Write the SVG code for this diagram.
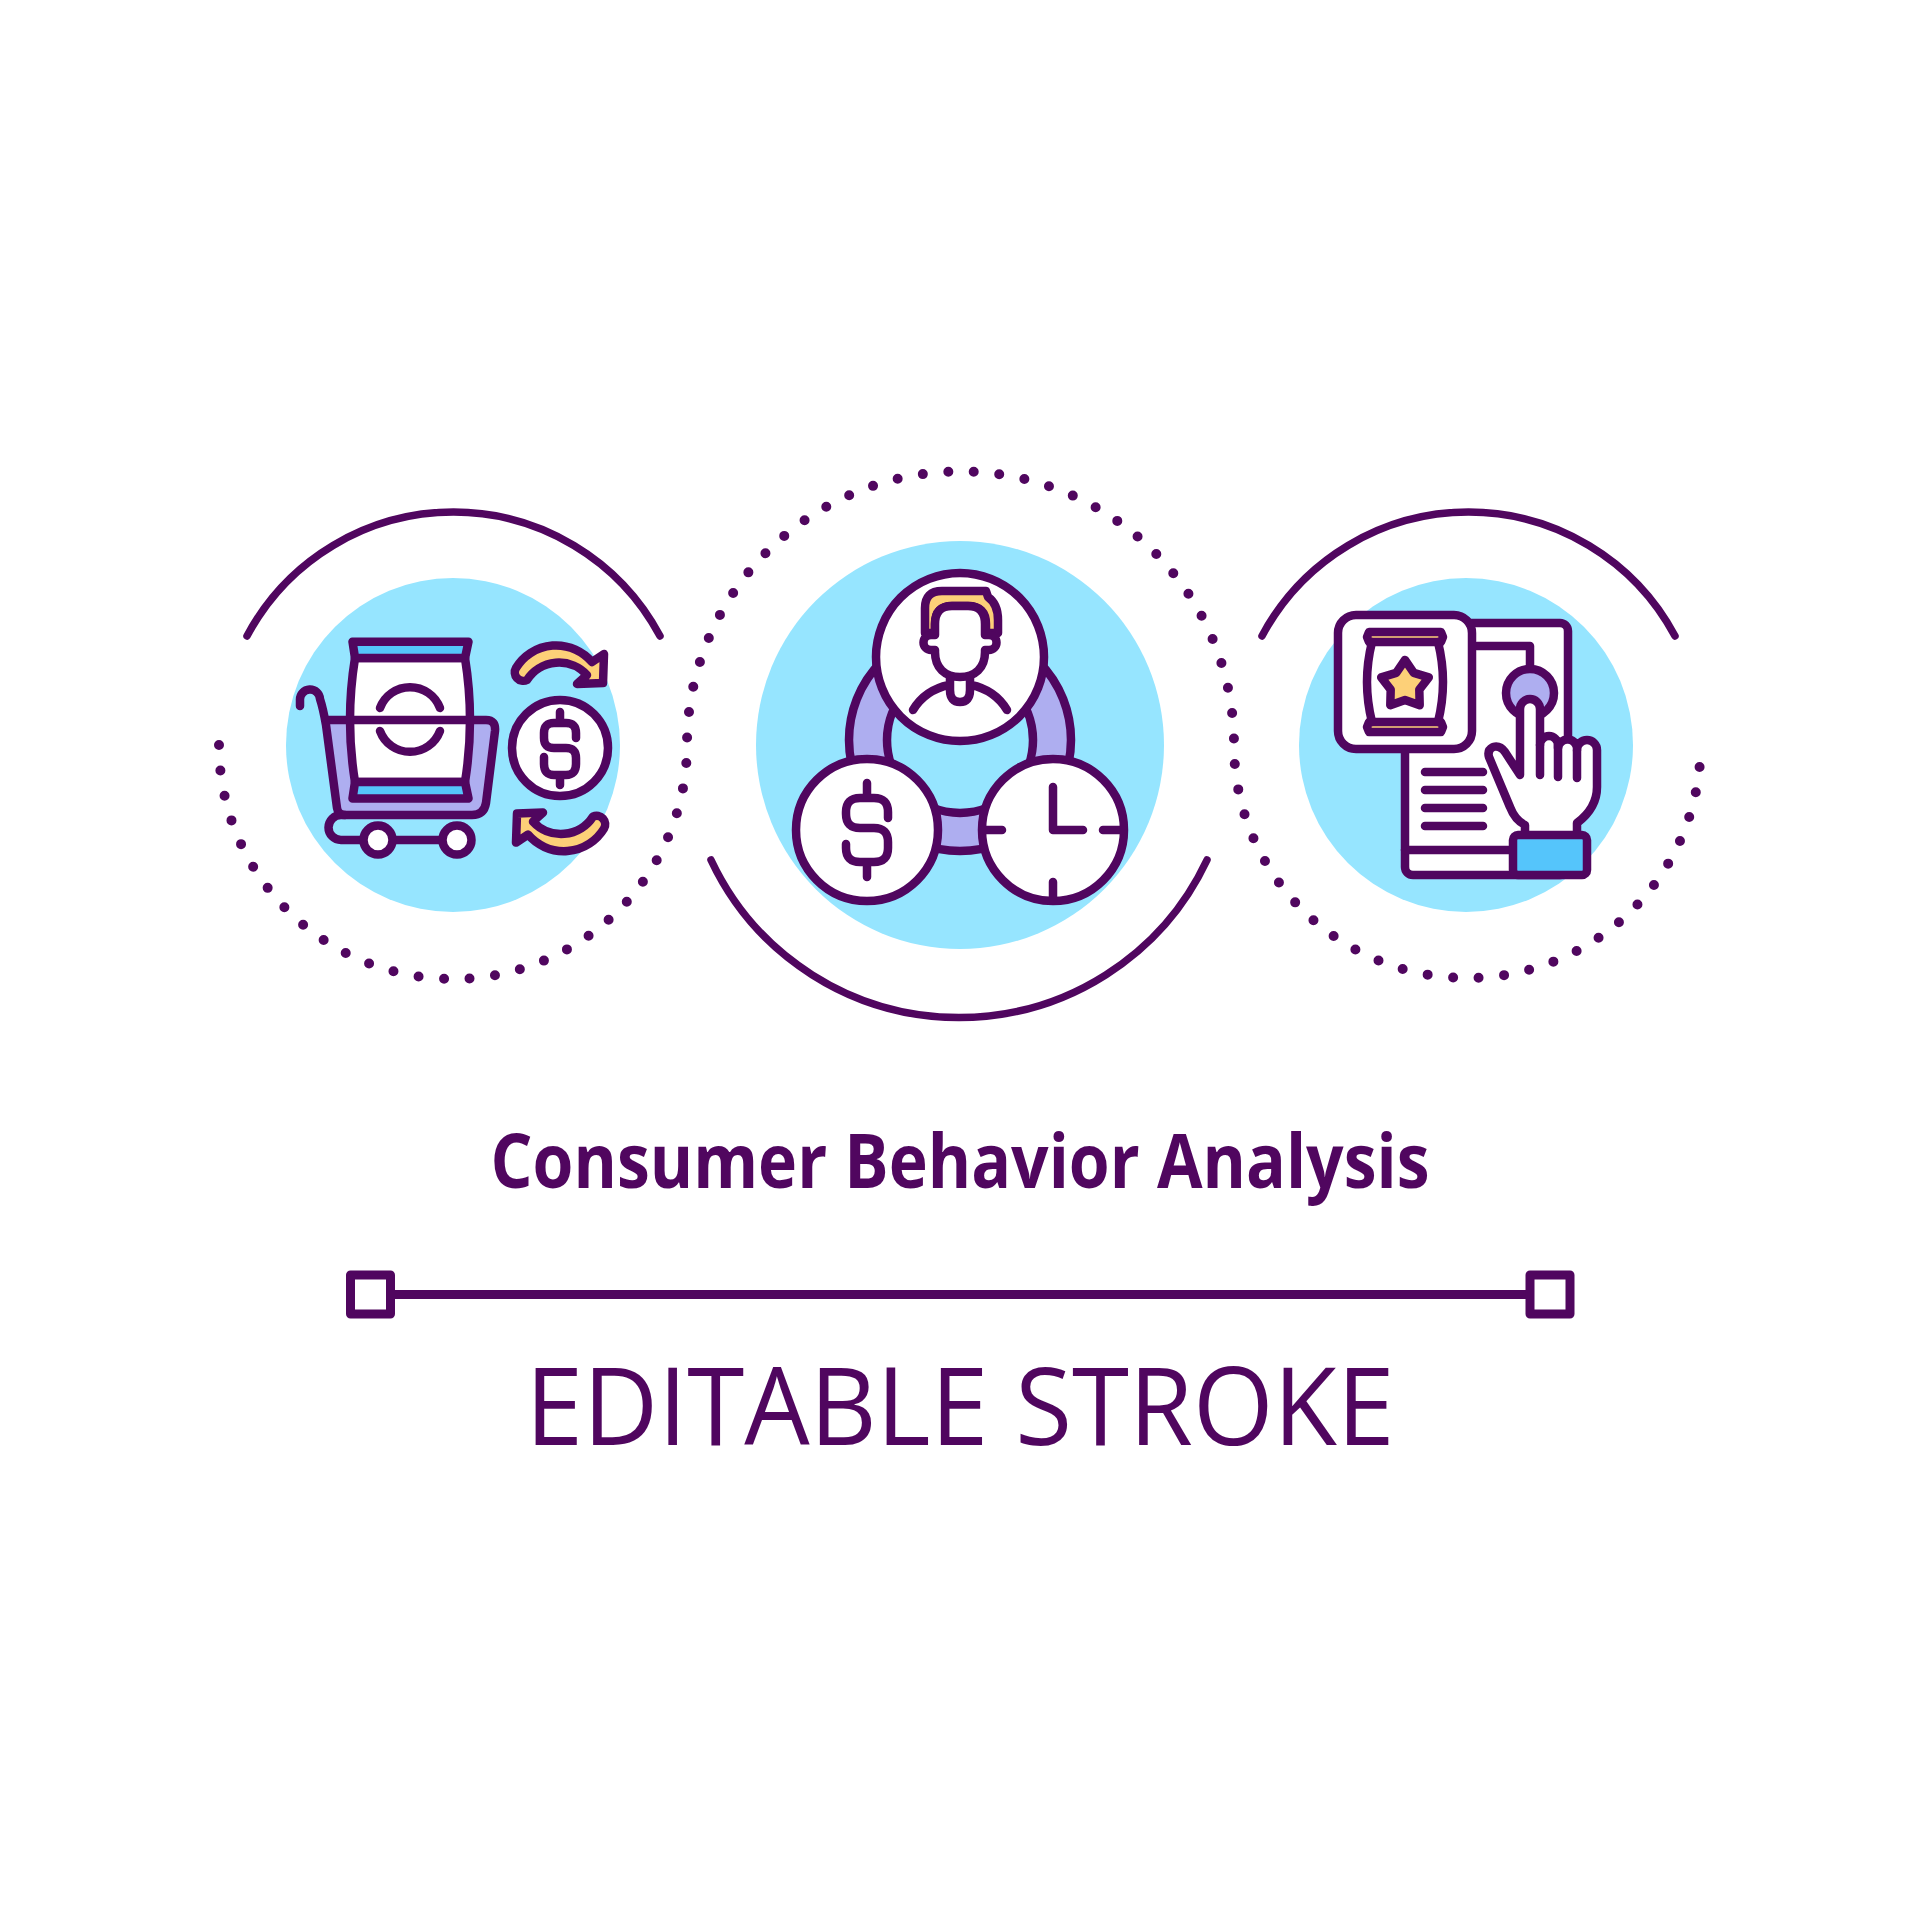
<svg xmlns="http://www.w3.org/2000/svg" width="1920" height="1920" viewBox="0 0 1920 1920">
<style>
.s{fill:none;stroke:#50065f;stroke-width:8.500;stroke-linecap:round;stroke-linejoin:round}
.a{fill:none;stroke:#50065f;stroke-width:7.500;stroke-linecap:round}
.d{fill:none;stroke:#50065f;stroke-width:10;stroke-linecap:round;stroke-dasharray:0 25.6}
.w{fill:#fff}.y{fill:#fdd078}.p{fill:#aeaef0}.b{fill:#55c5fb}.l{fill:#96e5ff}
.s.w{fill:#fff}.s.y{fill:#fdd078}.s.p{fill:#aeaef0}.s.b{fill:#55c5fb}.s.l{fill:#96e5ff}
.t{fill:#50065f;font-family:"Open Sans","Liberation Sans",sans-serif}
</style>
<rect width="1920" height="1920" fill="#fff"/>
<g id="frames">
<circle class="l" cx="453" cy="745" r="167"/>
<circle class="l" cx="960" cy="745" r="204"/>
<circle class="l" cx="1466" cy="745" r="167"/>
<path class="a" d="M247 636A234 234 0 0 1 660 636"/>
<path class="a" d="M1262 636A234 234 0 0 1 1675 636"/>
<path class="a" d="M711 860A274 274 0 0 0 1207 860"/>
<path class="d" d="M219 745A234 234 0 0 0 687 745A273.500 273.500 0 0 1 1234 745A233 233 0 0 0 1467 978A233 233 0 0 0 1700 762"/>
</g>
<g id="cart">
<path class="p" d="M327 720H493L482 815H338Z"/>
<path class="s w" d="M355 658Q345 720 355 782H465Q475 720 465 658Z"/>
<path class="s b" d="M352.500 641.700H468.500L465 658H355ZM355 782H465L468.500 798.500H352.500Z"/>
<path class="s" d="M300 706V700A10 10 0 0 1 320 699Q323 708 326 725L337 808Q338 815 345 815H472Q484 815 486 803L495 731Q496 720 486 720H326"/>
<path class="s" d="M378 840H341A12.500 12.500 0 0 1 341 815H345M378 840H457"/>
<circle class="s w" cx="378" cy="840" r="14.500"/>
<circle class="s w" cx="457" cy="840" r="14.500"/>
<path class="s" d="M380 708A32 32 0 0 1 440 708M380 731A32 32 0 0 0 440 731"/>
<circle class="s w" cx="560" cy="748" r="48"/>
<path class="s" d="M560 712V722M560 775V785M576 738V733Q576 723 566 723H554Q544 723 544 733V738Q544 748 554 748H566Q576 748 576 758V764Q576 775 566 775H554Q544 775 544 764V757"/>
<g id="swap">
<path class="s y" d="M516 668A47 47 0 0 1 592 662L604 654L603 683L577 684L587 675A38 38 0 0 0 527 680A8.500 8.500 0 0 1 516 668Z"/>
<path class="s y" transform="rotate(180 560 748.300)" d="M516 668A47 47 0 0 1 592 662L604 654L603 683L577 684L587 675A38 38 0 0 0 527 680A8.500 8.500 0 0 1 516 668Z"/>
</g>
</g>
<g id="person-hub">
<circle class="s p" cx="960" cy="740" r="111"/>
<circle class="s l" cx="960" cy="740" r="73"/>
<circle class="s w" cx="960" cy="657" r="84"/>
<circle class="s w" cx="867" cy="830" r="71"/>
<circle class="s w" cx="1053" cy="830" r="71"/>
<path class="s y" d="M925 633V608Q925 591 942 591H986L988 597Q998 604 998 620V633H986V624Q986 606 968 606H952Q935 606 935 624V633Z"/>
<path class="s w" d="M935 635H931A7.500 7.500 0 0 0 931 650H935V652C935 668 945 677 960 677C975 677 985 668 985 652V650H989A7.500 7.500 0 0 0 989 635H985V624Q985 606 968 606H952Q935 606 935 624Z"/>
<path class="s" d="M950 677V690Q950 702 960 702Q970 702 970 690V677M913 710Q925 690 949 685M1007 710Q995 690 971 685"/>
<path class="s" d="M867 783V797M867 862V877M888 818V812Q888 798 874 798H860Q846 798 846 812V814Q846 828 860 828H874Q888 828 888 842V848Q888 862 874 862H860Q846 862 846 848V844"/>
<path class="s" d="M1053 787V830H1083M983 830H1002M1103 830H1123M1053 882V900"/>
</g>
<g id="product-touch">
<rect class="s w" x="1405" y="623" width="163" height="252" rx="8"/>
<path class="s" d="M1477 646H1530V670M1405 850H1515"/>
<circle class="s p" cx="1530" cy="693" r="24"/>
<rect class="s w" x="1338" y="615" width="134" height="134" rx="18"/>
<path class="s y" d="M1369 632H1441L1443 637L1441 642H1369L1367 637ZM1369 722H1441L1443 727L1441 732H1369L1367 727Z"/>
<path class="s" d="M1372 642Q1362 682 1372 722M1438 642Q1448 682 1438 722"/>
<path class="s y" d="M1405 660L1413.800 672.900L1428.800 677.300L1419.300 689.600L1419.700 705.200L1405 700L1390.300 705.200L1390.700 689.600L1381.200 677.300L1396.200 672.900Z"/>
<path class="s" d="M1425 772H1483M1425 790H1483M1425 808H1483M1425 826H1483"/>
<path class="s w" d="M1520 775V709A10 10 0 0 1 1540 709V745A9 9 0 0 1 1558 745V748A9.500 9.500 0 0 1 1577 750A9.500 9.500 0 0 1 1597 750V787Q1597 808 1577 823V836H1525V825Q1515 820 1510 807L1489 757Q1487 750 1493 747Q1500 745 1505 752Z"/>
<path class="s" d="M1540 745V775M1558 745V777M1577 750V778"/>
<rect class="s b" x="1513" y="835" width="74" height="40" rx="5"/>
</g>
<g id="caption">
<text class="t" x="960" y="1188" font-size="75" font-weight="700" text-anchor="middle" textLength="939" lengthAdjust="spacingAndGlyphs">Consumer Behavior Analysis</text>
<path class="s" style="stroke-width:9" d="M394 1294.500H1526"/>
<rect class="s" style="stroke-width:9" x="350.500" y="1275" width="40" height="39"/>
<rect class="s" style="stroke-width:9" x="1530" y="1275" width="40" height="39"/>
<text class="t" x="960" y="1445" font-size="108" font-weight="500" text-anchor="middle" textLength="869" lengthAdjust="spacingAndGlyphs">EDITABLE STROKE</text>
</g>
</svg>
